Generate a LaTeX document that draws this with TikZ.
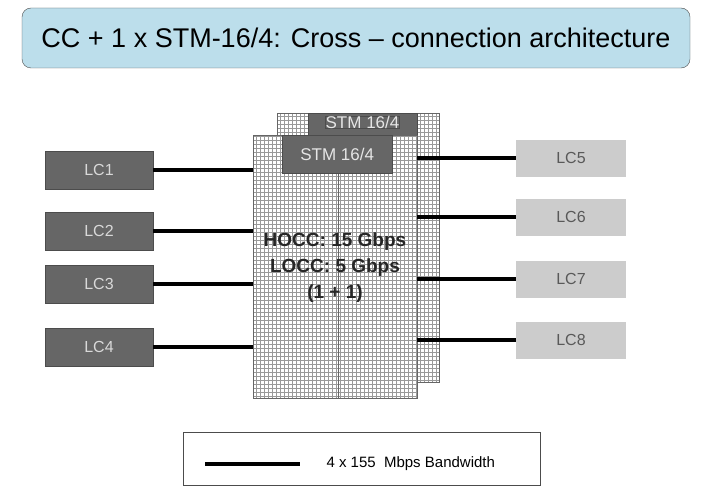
\documentclass[tikz,border=0pt]{standalone}
\usepackage{fontspec}
\setmainfont{Liberation Sans}
\begin{document}
\begin{tikzpicture}[x=1pt,y=-1pt,
  lcd/.style={draw=black!70,fill=black!60,minimum width=108pt,minimum height=38pt,text=black!15,font=\fontsize{16}{18}\selectfont,inner sep=0pt},
  lcl/.style={draw=black!20,fill=black!20,minimum width=109pt,minimum height=36pt,text=black!65,font=\fontsize{16}{18}\selectfont,inner sep=0pt},
  stm/.style={draw=black!70,fill=black!60,text=black!10,font=\fontsize{17}{19}\selectfont,inner sep=0pt},
  link/.style={line width=3.2pt}]
\useasboundingbox (0,0) rectangle (719,492);
% title
\node[draw=black!70,fill=cyan!25!white!85!gray,rounded corners=9pt,minimum width=668pt,minimum height=60pt,font=\fontsize{27}{30}\selectfont] (title) at (356,38) {CC + 1 x STM-16/4: Cross -- connection architecture};
% back card
\fill[white] (277,113) rectangle (439,382);
\begin{scope}
\clip (277,113) rectangle (439,382);
\draw[black!40,line width=0.5pt,step=4pt] (276,112) grid (440,383);
\end{scope}
\draw[black!60] (277,113) rectangle (439,382);
\node[stm,minimum width=109pt,minimum height=22pt,anchor=north west] (stmb) at (308,113) {};
\begin{scope}
\clip (308,113) rectangle (417,135);
\node[stm,anchor=north] (stmbt) at (362.5,116) {STM 16/4};
\end{scope}
% front card
\fill[white] (253,135) rectangle (417,398);
\begin{scope}
\clip (253,135) rectangle (417,398);
\draw[black!40,line width=0.5pt,step=4pt] (252,134) grid (418,399);
\end{scope}
\draw[black!60] (253,135) rectangle (417,398);
\draw[black!60,line width=1pt] (338,173) -- (338,398);
\node[stm,minimum width=110pt,minimum height=38pt,anchor=north west] (stmf) at (282,135) {STM 16/4};
\node[font=\bfseries\fontsize{19}{26}\selectfont,align=center,text=black!85] (cap) at (335,268) {HOCC: 15 Gbps\\LOCC: 5 Gbps\\(1 + 1)};
% left LCs
\node[lcd] (lc1) at (99,170) {LC1};
\node[lcd] (lc2) at (99,231) {LC2};
\node[lcd] (lc3) at (99,284) {LC3};
\node[lcd] (lc4) at (99,347) {LC4};
% right LCs
\node[lcl] (lc5) at (571,158) {LC5};
\node[lcl] (lc6) at (571,217) {LC6};
\node[lcl] (lc7) at (571,279) {LC7};
\node[lcl] (lc8) at (571,340) {LC8};
\coordinate (l1) at (253,170); \coordinate (l2) at (253,231);
\coordinate (l3) at (253,284); \coordinate (l4) at (253,347);
\coordinate (r5) at (417,158); \coordinate (r6) at (417,217);
\coordinate (r7) at (417,279); \coordinate (r8) at (417,340);
\draw[link] (lc1.east) -- (l1);
\draw[link] (lc2.east) -- (l2);
\draw[link] (lc3.east) -- (l3);
\draw[link] (lc4.east) -- (l4);
\draw[link] (r5) -- (lc5.west);
\draw[link] (r6) -- (lc6.west);
\draw[link] (r7) -- (lc7.west);
\draw[link] (r8) -- (lc8.west);
% legend
\node[draw=black!70,minimum width=357pt,minimum height=53pt] (leg) at (361.5,458.5) {};
\coordinate (la) at (205,464); \coordinate (lb) at (300,464);
\draw[link] (la) -- (lb);
\node[font=\fontsize{15}{17}\selectfont,anchor=west] (legt) at (323,464) {4 x 155\ \ Mbps Bandwidth};
\end{tikzpicture}
\end{document}
